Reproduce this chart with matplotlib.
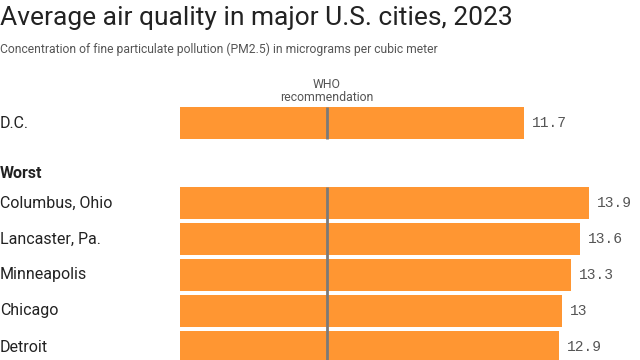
import matplotlib
matplotlib.use("Agg")
import matplotlib.pyplot as plt

# Data
dc_label = "D.C."
dc_value = 11.7
cities = ["Columbus, Ohio", "Lancaster, Pa.", "Minneapolis", "Chicago", "Detroit"]
values = [13.9, 13.6, 13.3, 13.0, 12.9]
value_labels = ["13.9", "13.6", "13.3", "13", "12.9"]
who_value = 5

orange = "#ff9632"
line_grey = "#7a7a7a"
text_dark = "#222222"

fig = plt.figure(figsize=(6.4, 3.6), dpi=100)
ax = fig.add_axes([0, 0, 1, 1])
# pixel-like layout: bars start at x=180 px, 29.4 px per unit
px_per_unit = 29.4
ax.set_xlim(-180 / px_per_unit, (640 - 180) / px_per_unit)
ax.set_ylim(360, 0)
ax.axis("off")

bar_h = 32
dc_y = 123
rows_y = [203 + 36 * i for i in range(len(cities))]

# D.C. bar
ax.barh(dc_y, dc_value, height=bar_h, color=orange)
ax.vlines(who_value, dc_y - bar_h / 2, dc_y + bar_h / 2, color=line_grey, lw=2)

# Worst cities
ax.barh(rows_y, values, height=bar_h, color=orange)
ax.vlines(who_value, rows_y[0] - bar_h / 2, 360, color=line_grey, lw=2)

x0 = -180 / px_per_unit
label_font = dict(family="Roboto", fontsize=11.5, color=text_dark, va="center")
value_font = dict(family="Liberation Mono", fontsize=10.5, color="#555555", va="center")

ax.text(x0, dc_y, dc_label, **label_font)
ax.text(dc_value + 0.27, dc_y, "11.7", **value_font)
for y, c, v, lab in zip(rows_y, cities, values, value_labels):
    ax.text(x0, y, c, **label_font)
    ax.text(v + 0.27, y, lab, **value_font)

ax.text(x0, 173, "Worst", family="Roboto", fontsize=11.5, fontweight="bold",
        color=text_dark, va="center")

ax.text(who_value, 91, "WHO\nrecommendation", family="Roboto", fontsize=8.8,
        color="#555555", ha="center", va="center", linespacing=1.0)

# Title and subtitle
fig.text(0.0, 1 - 18 / 360, "Average air quality in major U.S. cities, 2023",
         family="Roboto", fontsize=19, color=text_dark, va="center")
fig.text(0.0, 1 - 49 / 360,
         "Concentration of fine particulate pollution (PM2.5) in micrograms per cubic meter",
         family="Roboto", fontsize=8.7, color="#555555", va="center")

fig.savefig("out.png", dpi=100)
